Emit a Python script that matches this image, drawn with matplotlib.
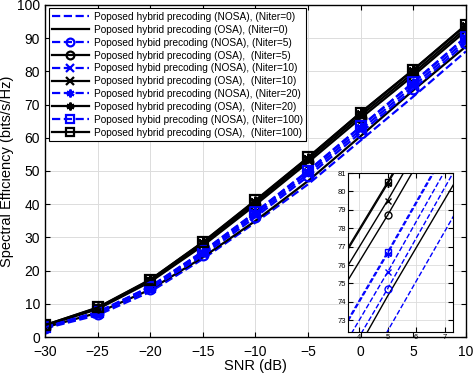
import matplotlib
matplotlib.use('Agg')
import matplotlib.pyplot as plt

plt.rcParams['font.family'] = ['Liberation Sans', 'DejaVu Sans']

# data
snr = [-30, -25, -20, -15, -10, -5, 0, 5, 10]

nosa_0 = [2.6, 6.6, 13.6, 23.5, 34.5, 46.0, 59.2, 72.4, 86.0]
osa_0 = [2.9, 7.3, 14.3, 24.0, 35.0, 47.0, 60.5, 74.3, 87.5]
nosa_5 = [2.8, 7.0, 14.4, 24.6, 36.1, 48.4, 61.5, 74.7, 88.5]
osa_5 = [3.4, 8.4, 16.6, 27.5, 39.8, 52.6, 65.9, 78.7, 92.2]
nosa_10 = [2.9, 7.3, 14.8, 25.2, 36.8, 49.2, 62.4, 75.6, 89.4]
osa_10 = [3.5, 8.6, 16.9, 28.0, 40.4, 53.3, 66.7, 79.5, 93.0]
nosa_20 = [3.0, 7.5, 15.1, 25.7, 37.5, 50.0, 63.3, 76.6, 90.3]
osa_20 = [3.6, 8.8, 17.2, 28.5, 41.0, 54.0, 67.5, 80.4, 93.9]
nosa_100 = [3.0, 7.5, 15.2, 25.8, 37.6, 50.1, 63.4, 76.7, 90.4]
osa_100 = [3.6, 8.9, 17.3, 28.6, 41.2, 54.1, 67.6, 80.5, 94.0]

labels = [
    'Poposed hybrid precoding (NOSA), (Niter=0)',
    'Poposed hybrid precoding (OSA), (Niter=0)',
    'Poposed hybid precoding (NOSA), (Niter=5)',
    'Poposed hybrid precoding (OSA),  (Niter=5)',
    'Poposed hybid precoding (NOSA), (Niter=10)',
    'Poposed hybrid precoding (OSA),  (Niter=10)',
    'Poposed hybrid precoding (NOSA), (Niter=20)',
    'Poposed hybrid precoding (OSA),  (Niter=20)',
    'Poposed hybid precoding (NOSA), (Niter=100)',
    'Poposed hybrid precoding (OSA),  (Niter=100)',
]
series = [nosa_0, osa_0, nosa_5, osa_5, nosa_10, osa_10,
          nosa_20, osa_20, nosa_100, osa_100]
# matlab style asterisk for the Niter=20 curves
markers = [None, None, 'o', 'o', 'x', 'x', (6, 2, 0), (6, 2, 0), 's', 's']


def draw(ax, lw, ms):
    for i, (y, m, lab) in enumerate(zip(series, markers, labels)):
        if i % 2 == 0:
            ax.plot(snr, y, '--', color='blue', lw=lw, marker=m, ms=ms,
                    mfc='none', mew=lw, label=lab)
        else:
            ax.plot(snr, y, '-', color='black', lw=lw, marker=m, ms=ms,
                    mfc='none', mew=lw, label=lab)


fig = plt.figure(figsize=(4.74, 3.77), dpi=100)
ax = fig.add_axes([0.095, 0.106, 0.888, 0.881])
draw(ax, 1.6, 7)
ax.set_xlim(-30, 10)
ax.set_ylim(0, 100)
ax.set_xticks(range(-30, 11, 5))
ax.set_yticks(range(0, 101, 10))
ax.grid(True, color='#dcdcdc', lw=0.7)
ax.set_axisbelow(True)
ax.tick_params(direction='in', top=True, right=True, labelsize=10)
ax.tick_params(axis='x', pad=6)
for s in ax.spines.values():
    s.set_linewidth(1.0)
ax.set_xlabel('SNR (dB)', fontsize=10.5, labelpad=0)
ax.set_ylabel('Spectral Efficiency (bits/s/Hz)', fontsize=10.5, labelpad=2)

leg = ax.legend(loc='upper left', fontsize=7.3, labelspacing=0.28,
                handlelength=3.6, handletextpad=0.5, borderpad=0.35,
                borderaxespad=0.35, fancybox=False, framealpha=1,
                edgecolor='black', markerscale=0.8)
leg.get_frame().set_linewidth(0.8)

# zoomed inset around SNR = 5 dB
axin = fig.add_axes([0.734, 0.119, 0.2215, 0.422])
draw(axin, 1.0, 5)
axin.set_xlim(3.62, 7.28)
axin.set_ylim(72.35, 81)
axin.set_xticks([4, 5, 6, 7])
axin.set_yticks(range(73, 82))
axin.grid(True, color='#dcdcdc', lw=0.6)
axin.tick_params(direction='in', top=True, right=True, labelsize=5.5, pad=1.5)

fig.savefig('out.png', dpi=100)
